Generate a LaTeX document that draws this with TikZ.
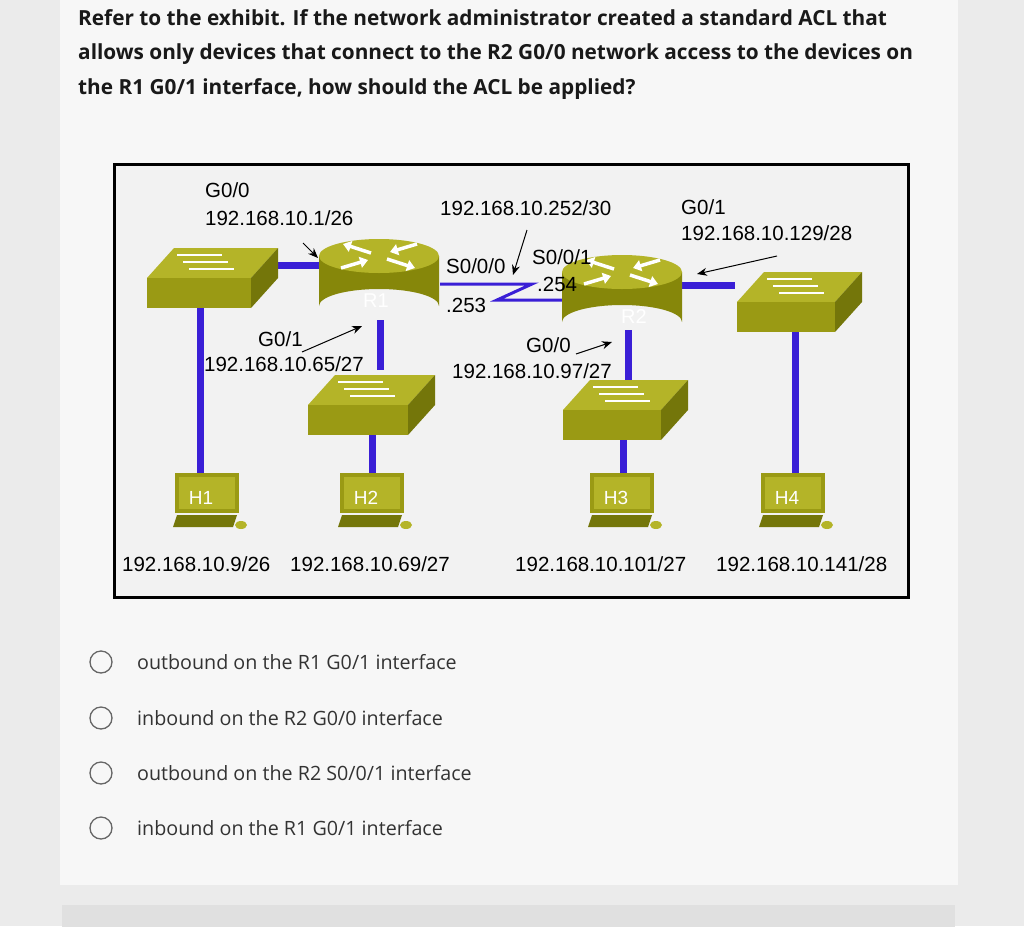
\documentclass[tikz,border=0pt]{standalone}
\usepackage{fontspec}
\setmainfont{Liberation Sans}
\newfontfamily\qfont{Open Sans}
\usetikzlibrary{arrows.meta}
\definecolor{olt}{HTML}{B4B428}
\definecolor{olf}{HTML}{9A9A14}
\definecolor{olr}{HTML}{86870A}
\definecolor{ols}{HTML}{74760A}
\definecolor{lnk}{HTML}{3A1FD6}
\tikzset{
 lbl/.style={font=\fontsize{20.5}{22}\selectfont,anchor=west,inner sep=0},
 ptr/.style={-{Stealth[length=10pt,width=8pt]},line width=1pt},
 link/.style={lnk,line width=7pt},
 opt/.style={font=\qfont\fontsize{19.7}{22}\selectfont,anchor=west,inner sep=0,text=black!80},
 q/.style={font=\qfont\bfseries\fontsize{20.8}{24}\selectfont,anchor=west,inner sep=0,text=black!90},
 rarr/.style={white,line width=3.5pt,-{Triangle[length=8pt,width=11pt]}},
}
\newcommand{\myswitch}[4]{%
 \fill[olt] (#2,#3) -- ++(27,-30) -- ++(#4,0) -- ++(-27,30) -- cycle;
 \fill[olf] (#2,#3) rectangle ++(#4,30);
 \fill[ols] (#2+#4,#3) -- ++(27,-30) -- ++(0,30) -- ++(-27,30) -- cycle;
 \foreach \k in {0,1,2}{\draw[white,line width=1.6pt] (#2+30+\k*6,#3-23+\k*7) -- ++(45,0);}
 \coordinate (#1) at (#2+#4/2+13,#3);}
\newcommand{\myrouter}[4]{%
 \fill[olr] (#2-60,#3) -- (#2-60,#3+50) arc[start angle=180,end angle=360,x radius=60,y radius=17] -- (#2+60,#3) -- cycle;
 \fill[olt] (#2,#3) ellipse[x radius=60,y radius=17];
 \draw[rarr] (#2-8,#3-3) -- (#2-36,#3-12);
 \draw[rarr] (#2+8,#3+3) -- (#2+36,#3+12);
 \draw[rarr] (#2-38,#3+12) -- (#2-11,#3+4);
 \draw[rarr] (#2+38,#3-12) -- (#2+11,#3-4);
 \node[text=white,font=\fontsize{20}{22}\selectfont] (#1) at (#2+#4,#3+45) {#1};}
\newcommand{\myhost}[3]{%
 \fill[olf] (#2-32,#3) rectangle (#2+32,#3+40);
 \fill[olt] (#2-28,#3+4) rectangle (#2+28,#3+36);
 \node[text=white,font=\fontsize{19}{20}\selectfont] (#1) at (#2-6,#3+25) {#1};
 \fill[ols] (#2-30,#3+42) -- (#2+30,#3+42) -- (#2+26,#3+54) -- (#2-34,#3+54) -- cycle;
 \fill[olt] (#2+34,#3+52) ellipse[x radius=6,y radius=4];}
\begin{document}
\begin{tikzpicture}[x=1pt,y=-1pt]
\useasboundingbox (0,0) rectangle (1024,926);
\fill[black!8] (0,0) rectangle (1024,926);
\fill[white!97!black] (60,-10) rectangle (958,885);
\fill[black!12] (62,905) rectangle (955,930);
\node[q] (q1) at (78,18) {Refer to the exhibit. If the network administrator created a standard ACL that};
\node[q] (q2) at (78,54) {allows only devices that connect to the R2 G0/0 network access to the devices on};
\node[q] (q3) at (78,89) {the R1 G0/1 interface, how should the ACL be applied?};
\draw[line width=3pt,fill=black!5] (114,164) rectangle (908,597);
\draw[link] (278,265) -- (320,265);
\draw[link] (200,306) -- (200,478);
\draw[link] (380,320) -- (380,370);
\draw[link] (372,430) -- (372,478);
\draw[link] (680,285) -- (735,285);
\draw[link] (628,330) -- (628,385);
\draw[link] (623,440) -- (623,478);
\draw[link] (795,332) -- (795,478);
\draw[lnk,line width=3pt] (440,284) -- (532,284) -- (497,300) -- (580,300);
\myswitch{S1}{147}{278}{104}
\myswitch{S2}{308}{405}{100}
\myswitch{S3}{563}{410}{98}
\myswitch{S4}{737}{302}{98}
\myrouter{R1}{379}{256}{-3}
\myrouter{R2}{622}{272}{12}
\myhost{H1}{207}{473}
\myhost{H2}{372}{473}
\myhost{H3}{622}{473}
\myhost{H4}{793}{473}
\node[lbl] (l1) at (205,190) {G0/0};
\node[lbl] (l2) at (205,218) {192.168.10.1/26};
\coordinate (a1) at (303,243); \coordinate (a1e) at (318,258);
\draw[ptr] (a1) -- (a1e);
\node[lbl] (l3) at (440,208) {192.168.10.252/30};
\coordinate (a2) at (527,230); \coordinate (a2e) at (513,275);
\draw[ptr] (a2) -- (a2e);
\node[lbl] (l4) at (446,266) {S0/0/0};
\node[lbl] (l5) at (446,305) {.253};
\node[lbl] (l6) at (532,257) {S0/0/1};
\node[lbl] (l7) at (537,284) {.254};
\node[lbl] (l8) at (681,207) {G0/1};
\node[lbl] (l9) at (681,233) {192.168.10.129/28};
\coordinate (a3) at (777,256); \coordinate (a3e) at (697,274);
\draw[ptr] (a3) -- (a3e);
\node[lbl] (l10) at (258,339) {G0/1};
\node[lbl] (l11) at (204,364) {192.168.10.65/27};
\coordinate (a4) at (302,352); \coordinate (a4e) at (362,326);
\draw[ptr] (a4) -- (a4e);
\node[lbl] (l12) at (526,345) {G0/0};
\node[lbl] (l13) at (452,371) {192.168.10.97/27};
\coordinate (a5) at (576,354); \coordinate (a5e) at (612,342);
\draw[ptr] (a5) -- (a5e);
\node[lbl] (b1) at (122,564) {192.168.10.9/26};
\node[lbl] (b2) at (290,564) {192.168.10.69/27};
\node[lbl] (b3) at (515,564) {192.168.10.101/27};
\node[lbl] (b4) at (716,564) {192.168.10.141/28};
\foreach \yy/\t/\n in {662/{outbound on the R1 G0/1 interface}/o1,718/{inbound on the R2 G0/0 interface}/o2,773/{outbound on the R2 S0/0/1 interface}/o3,828/{inbound on the R1 G0/1 interface}/o4}{
 \draw[black!60,line width=1.3pt] (101,\yy) circle[radius=11];
 \node[opt] (\n) at (137,\yy) {\t};}
\end{tikzpicture}
\end{document}
